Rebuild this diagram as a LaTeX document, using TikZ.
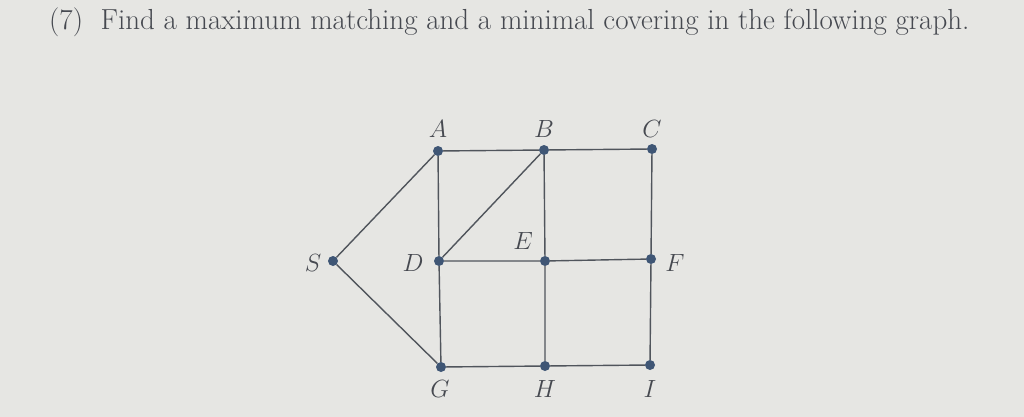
\documentclass[tikz,border=0pt]{standalone}
\begin{document}
\begin{tikzpicture}[x=1pt,y=-1pt,
  vtx/.style={circle,fill=dotc,inner sep=0pt,minimum size=10pt},
  lbl/.style={text=txtc,font=\fontsize{25}{29}\selectfont},
  edge/.style={draw=linec,line width=1.4pt}]
\definecolor{dotc}{HTML}{3F5675}
\definecolor{linec}{HTML}{50555C}
\definecolor{txtc}{HTML}{464950}
\definecolor{bgc}{HTML}{E6E6E3}
\fill[bgc] (0,0) rectangle (1024,417);
\useasboundingbox (0,0) rectangle (1024,417);
\node[anchor=west,text=txtc,font=\fontsize{29}{33}\selectfont,inner sep=0pt] (title) at (49,22) {(7)\ \ Find a maximum matching and a minimal covering in the following graph.};
\node[vtx] (A) at (438,151) {};
\node[vtx] (B) at (544,150) {};
\node[vtx] (C) at (652,149) {};
\node[vtx] (S) at (333,261) {};
\node[vtx] (D) at (439,261) {};
\node[vtx] (E) at (545,261) {};
\node[vtx] (F) at (651,259) {};
\node[vtx] (G) at (441,367) {};
\node[vtx] (H) at (545,366) {};
\node[vtx] (I) at (650,365) {};
\draw[edge] (A) -- (B) -- (C) -- (F) -- (I) -- (H) -- (G) -- (S) -- (A) -- (D) -- (G);
\draw[edge] (D) -- (E) -- (F);
\draw[edge] (B) -- (E) -- (H);
\draw[edge] (D) -- (B);
\node[lbl] (lA) at (438,129) {$A$};
\node[lbl] (lB) at (544,129) {$B$};
\node[lbl] (lC) at (652,129) {$C$};
\node[lbl] (lS) at (313,263) {$S$};
\node[lbl] (lD) at (413,263) {$D$};
\node[lbl] (lE) at (523,241) {$E$};
\node[lbl] (lF) at (675,263) {$F$};
\node[lbl] (lG) at (440,389) {$G$};
\node[lbl] (lH) at (545,389) {$H$};
\node[lbl] (lI) at (650,389) {$I$};
\end{tikzpicture}
\end{document}
